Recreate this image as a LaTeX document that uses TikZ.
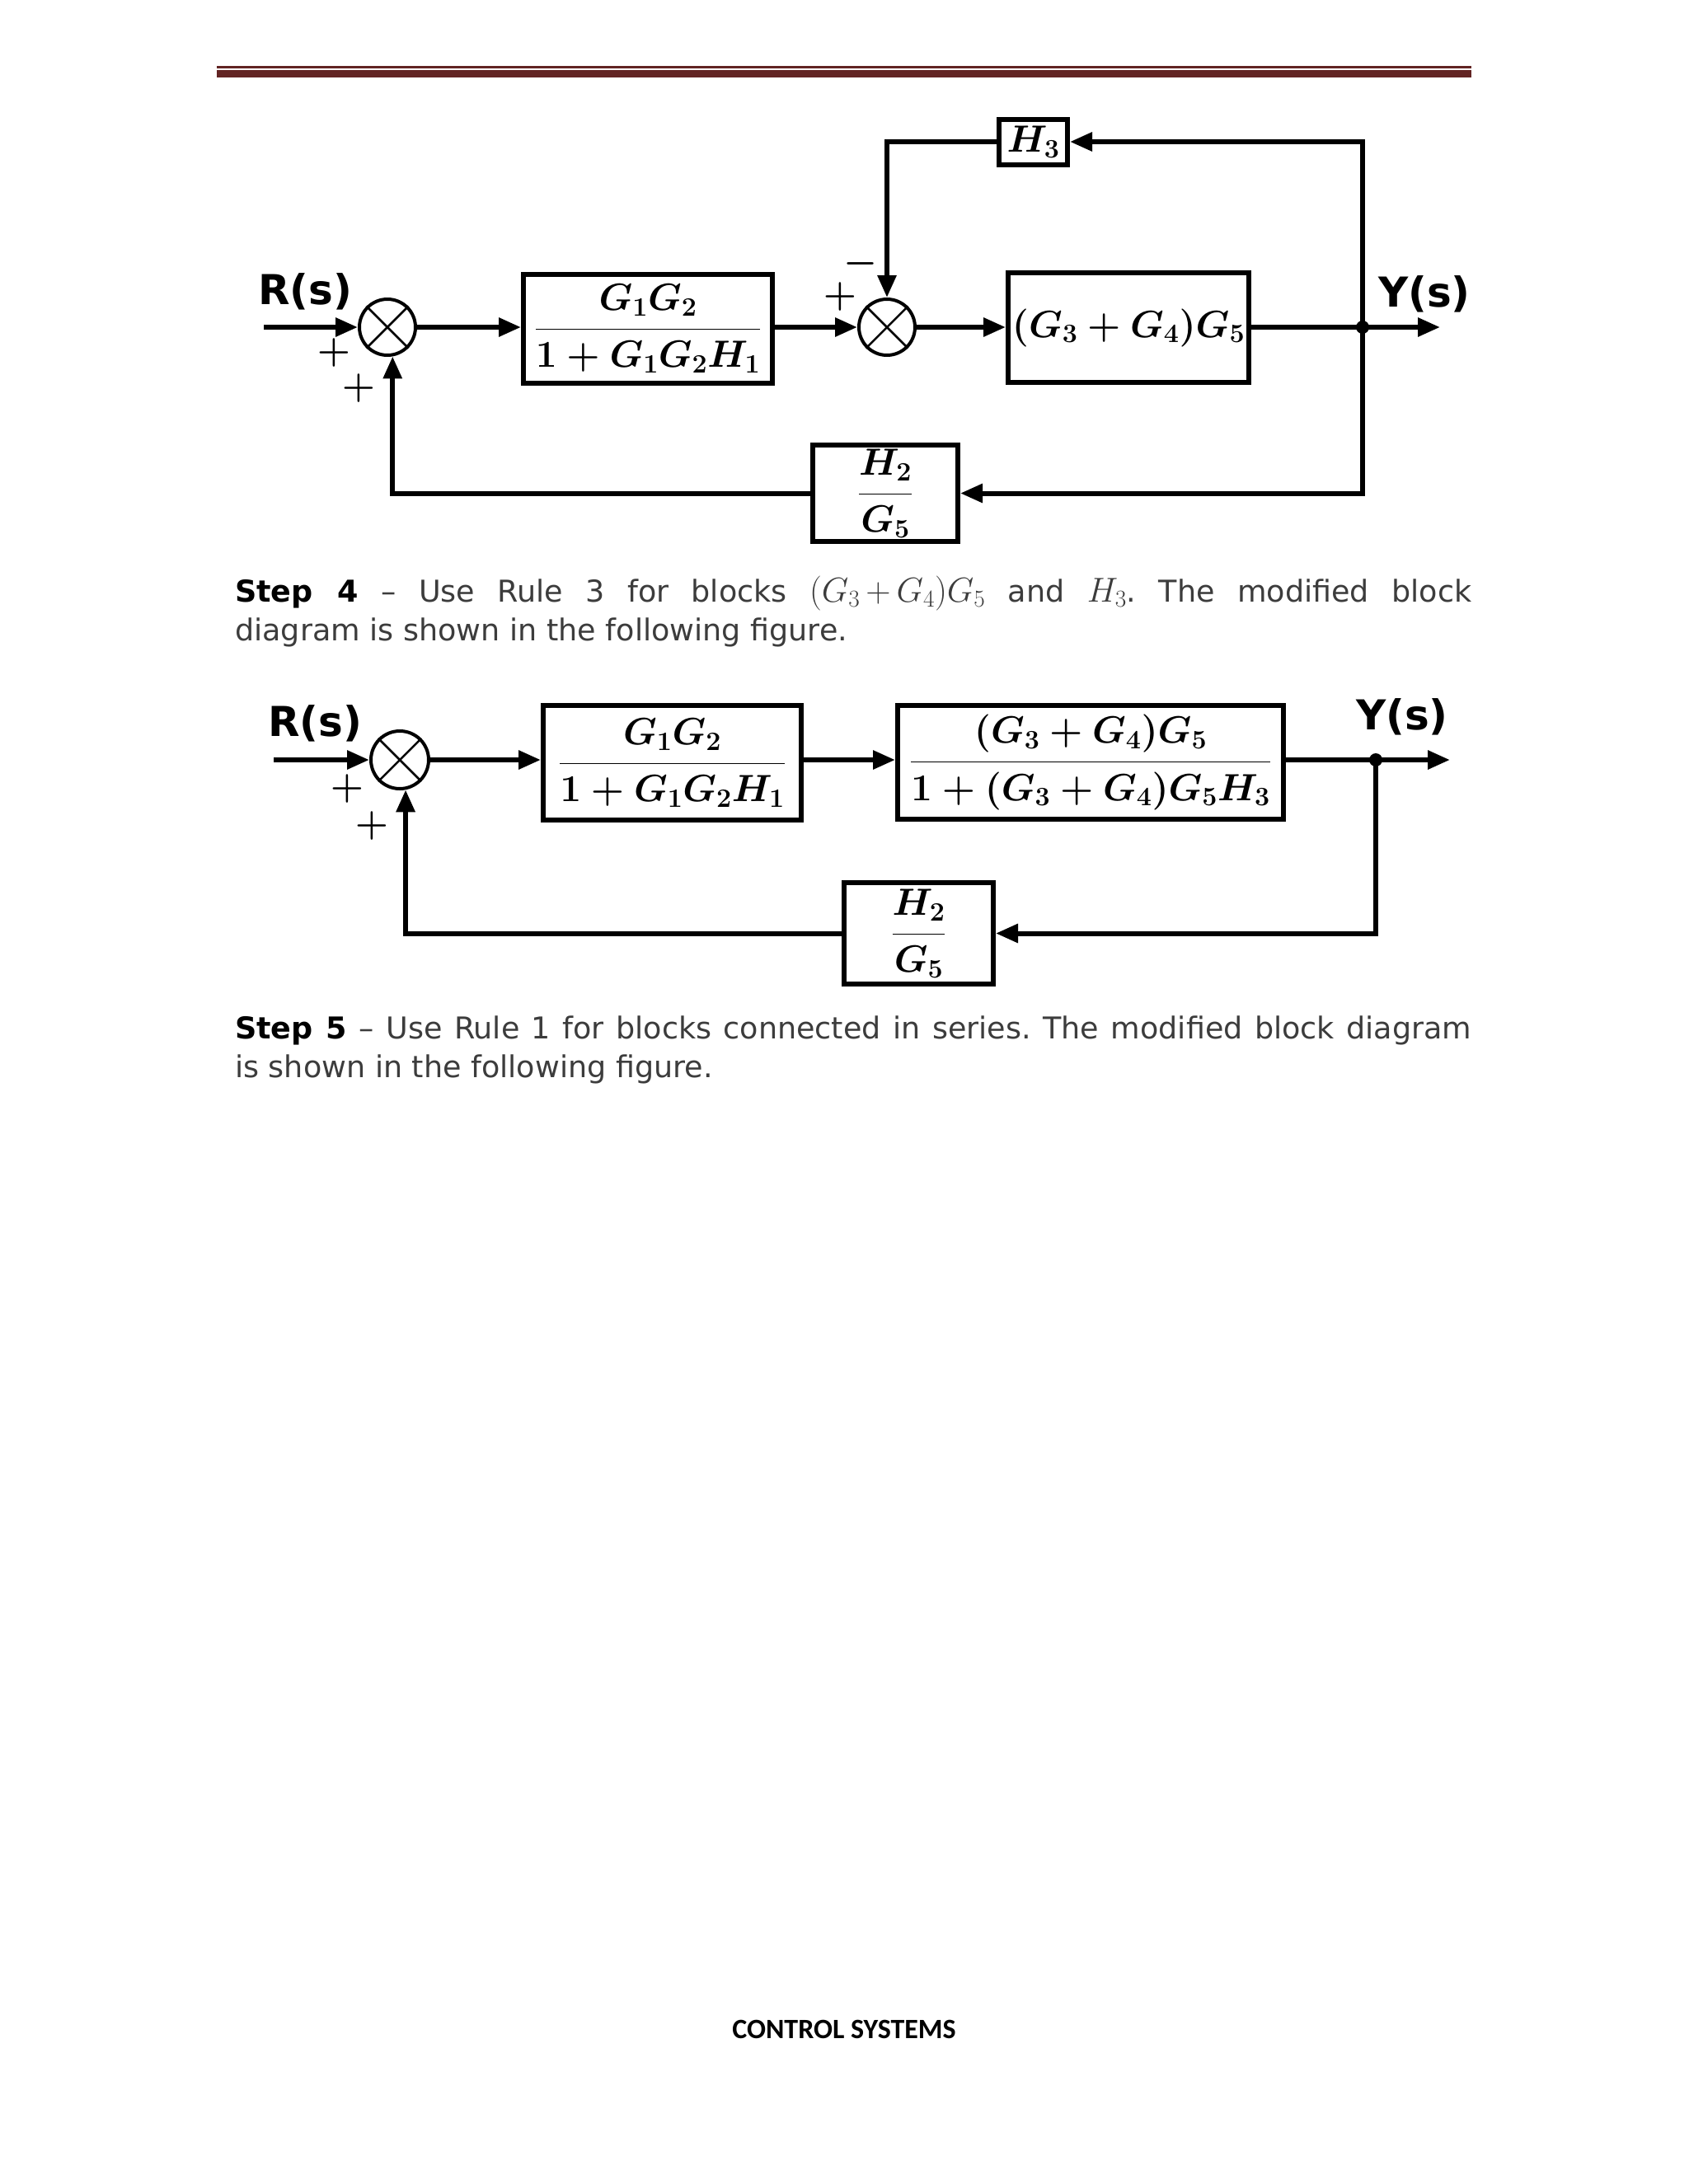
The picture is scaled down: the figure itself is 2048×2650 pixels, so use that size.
\RequirePackage{fix-cm}
\documentclass[tikz,border=0pt]{standalone}
\usepackage{amsmath}
\usepackage[no-math]{fontspec}
\newfontfamily\dvsans{DejaVu Sans}
\newfontfamily\carl{Carlito}
\usetikzlibrary{arrows.meta}
\definecolor{hdr}{HTML}{622423}
\definecolor{txtgray}{HTML}{3C3C3C}
\newcommand{\bigmath}[1]{{\fontsize{42}{47}\selectfont\medmuskip=3mu$#1$}}
\begin{document}
\begin{tikzpicture}[x=1pt,y=-1pt,
  conn/.style={line width=6pt},
  arr/.style={conn,-{Triangle[length=27pt,width=22pt]}},
  blk/.style={draw,line width=6pt,inner sep=0pt,font={\fontsize{46}{55}\selectfont\boldmath}},
  sumnode/.style={circle,draw,line width=4pt,inner sep=0pt},
  crossline/.style={line width=2.5pt},
  lbl/.style={inner sep=0pt,font={\dvsans\bfseries\fontsize{50}{60}\selectfont}},
  sgn/.style={inner sep=0pt,font={\fontsize{46}{46}\selectfont\boldmath}},
  body/.style={anchor=base west,inner sep=0pt,text=txtgray,font={\dvsans\fontsize{36.5}{47}\selectfont\frenchspacing}}
]
\useasboundingbox (0,0) rectangle (2048,2650);
\fill[white] (0,0) rectangle (2048,2650);

% header rule
\fill[hdr] (263,79.5) rectangle (1785,82.5);
\fill[hdr] (263,85) rectangle (1785,94);

% ---------- upper diagram ----------
\node[sumnode,minimum size=68pt] (s1) at (470,397) {};
\node[sumnode,minimum size=68pt] (s2) at (1076,397) {};
\draw[crossline] (s1.45) -- (s1.225) (s1.135) -- (s1.-45);
\draw[crossline] (s2.45) -- (s2.225) (s2.135) -- (s2.-45);
\node[blk,minimum width=302pt,minimum height=132pt] (b1) at (786,399) {$\dfrac{G_1G_2}{1+G_1G_2H_1}$};
\node[blk,minimum width=292pt,minimum height=133pt] (b2) at (1369,397.5) {$(G_3+G_4)G_5$};
\node[blk,minimum width=83pt,minimum height=55pt] (h3) at (1253.5,172) {$H_3$};
\node[blk,minimum width=176pt,minimum height=117pt] (h2) at (1074,598.5) {$\dfrac{H_2}{G_5}$};
\coordinate (in1) at (320,397);
\coordinate (d1) at (1653,397);
\coordinate (yo1) at (1747,397);

\draw[arr] (in1) -- (s1.west);
\draw[arr] (s1.east) -- (s1.east -| b1.west);
\draw[arr] (s1.east -| b1.east) -- (s2.west);
\draw[arr] (s2.east) -- (s2.east -| b2.west);
\draw[conn] (s2.east -| b2.east) -- (d1);
\draw[arr] (d1) -- (yo1);
\draw[arr] (d1) |- (h3.east);
\draw[arr] (h3.west) -| (s2.north);
\draw[arr] (d1) |- (h2.east);
\draw[arr] (h2.west) -| (s1.-80);
\fill (d1) circle[radius=8];

\node[lbl] (rs1) at (370,354) {R(s)};
\node[lbl] (ys1) at (1728,357) {Y(s)};
\node[sgn] (p1) at (405,428) {$+$};
\node[sgn] (p2) at (435,471) {$+$};
\node[sgn] (p3) at (1019,360) {$+$};
\node[sgn] (m1) at (1044,320) {$-$};

% ---------- text step 4 ----------
\node[body] (t4a) at (285,730) {\makebox[1500pt][s]{\textcolor{black}{\textbf{Step 4}} – Use Rule 3 for blocks \bigmath{(G_3+G_4)G_5} and \bigmath{H_3}. The modified block}};
\node[body] (t4b) at (285,777) {diagram is shown in the following figure.};

% ---------- lower diagram ----------
\node[sumnode,minimum size=70pt] (s3) at (485,922) {};
\draw[crossline] (s3.45) -- (s3.225) (s3.135) -- (s3.-45);
\node[blk,minimum width=313pt,minimum height=139pt] (ba) at (815.5,925.5) {$\dfrac{G_1G_2}{1+G_1G_2H_1}$};
\node[blk,minimum width=468pt,minimum height=138pt] (bb) at (1323,925) {$\dfrac{(G_3+G_4)G_5}{1+(G_3+G_4)G_5H_3}$};
\node[blk,minimum width=181pt,minimum height=123pt] (h2b) at (1114.5,1132.5) {$\dfrac{H_2}{G_5}$};
\coordinate (in2) at (332,922);
\coordinate (d2) at (1669,922);
\coordinate (yo2) at (1759,922);

\draw[arr] (in2) -- (s3.west);
\draw[arr] (s3.east) -- (s3.east -| ba.west);
\draw[arr] (s3.east -| ba.east) -- (s3.east -| bb.west);
\draw[conn] (s3.east -| bb.east) -- (d2);
\draw[arr] (d2) -- (yo2);
\draw[arr] (d2) |- (h2b.east);
\draw[arr] (h2b.west) -| (s3.-79);
\fill (d2) circle[radius=8];

\node[lbl] (rs2) at (382,878) {R(s)};
\node[lbl] (ys2) at (1701,870) {Y(s)};
\node[sgn] (p4) at (421,957) {$+$};
\node[sgn] (p5) at (451,1002) {$+$};

% ---------- text step 5 ----------
\node[body] (t5a) at (285,1260) {\makebox[1500pt][s]{\textcolor{black}{\textbf{Step 5}} – Use Rule 1 for blocks connected in series. The modified block diagram}};
\node[body] (t5b) at (285,1307) {is shown in the following figure.};

% ---------- footer ----------
\node[anchor=base,inner sep=0pt,font={\carl\bfseries\fontsize{34}{40}\selectfont}] (ft) at (1024,2473) {CONTROL SYSTEMS};
\end{tikzpicture}
\end{document}
